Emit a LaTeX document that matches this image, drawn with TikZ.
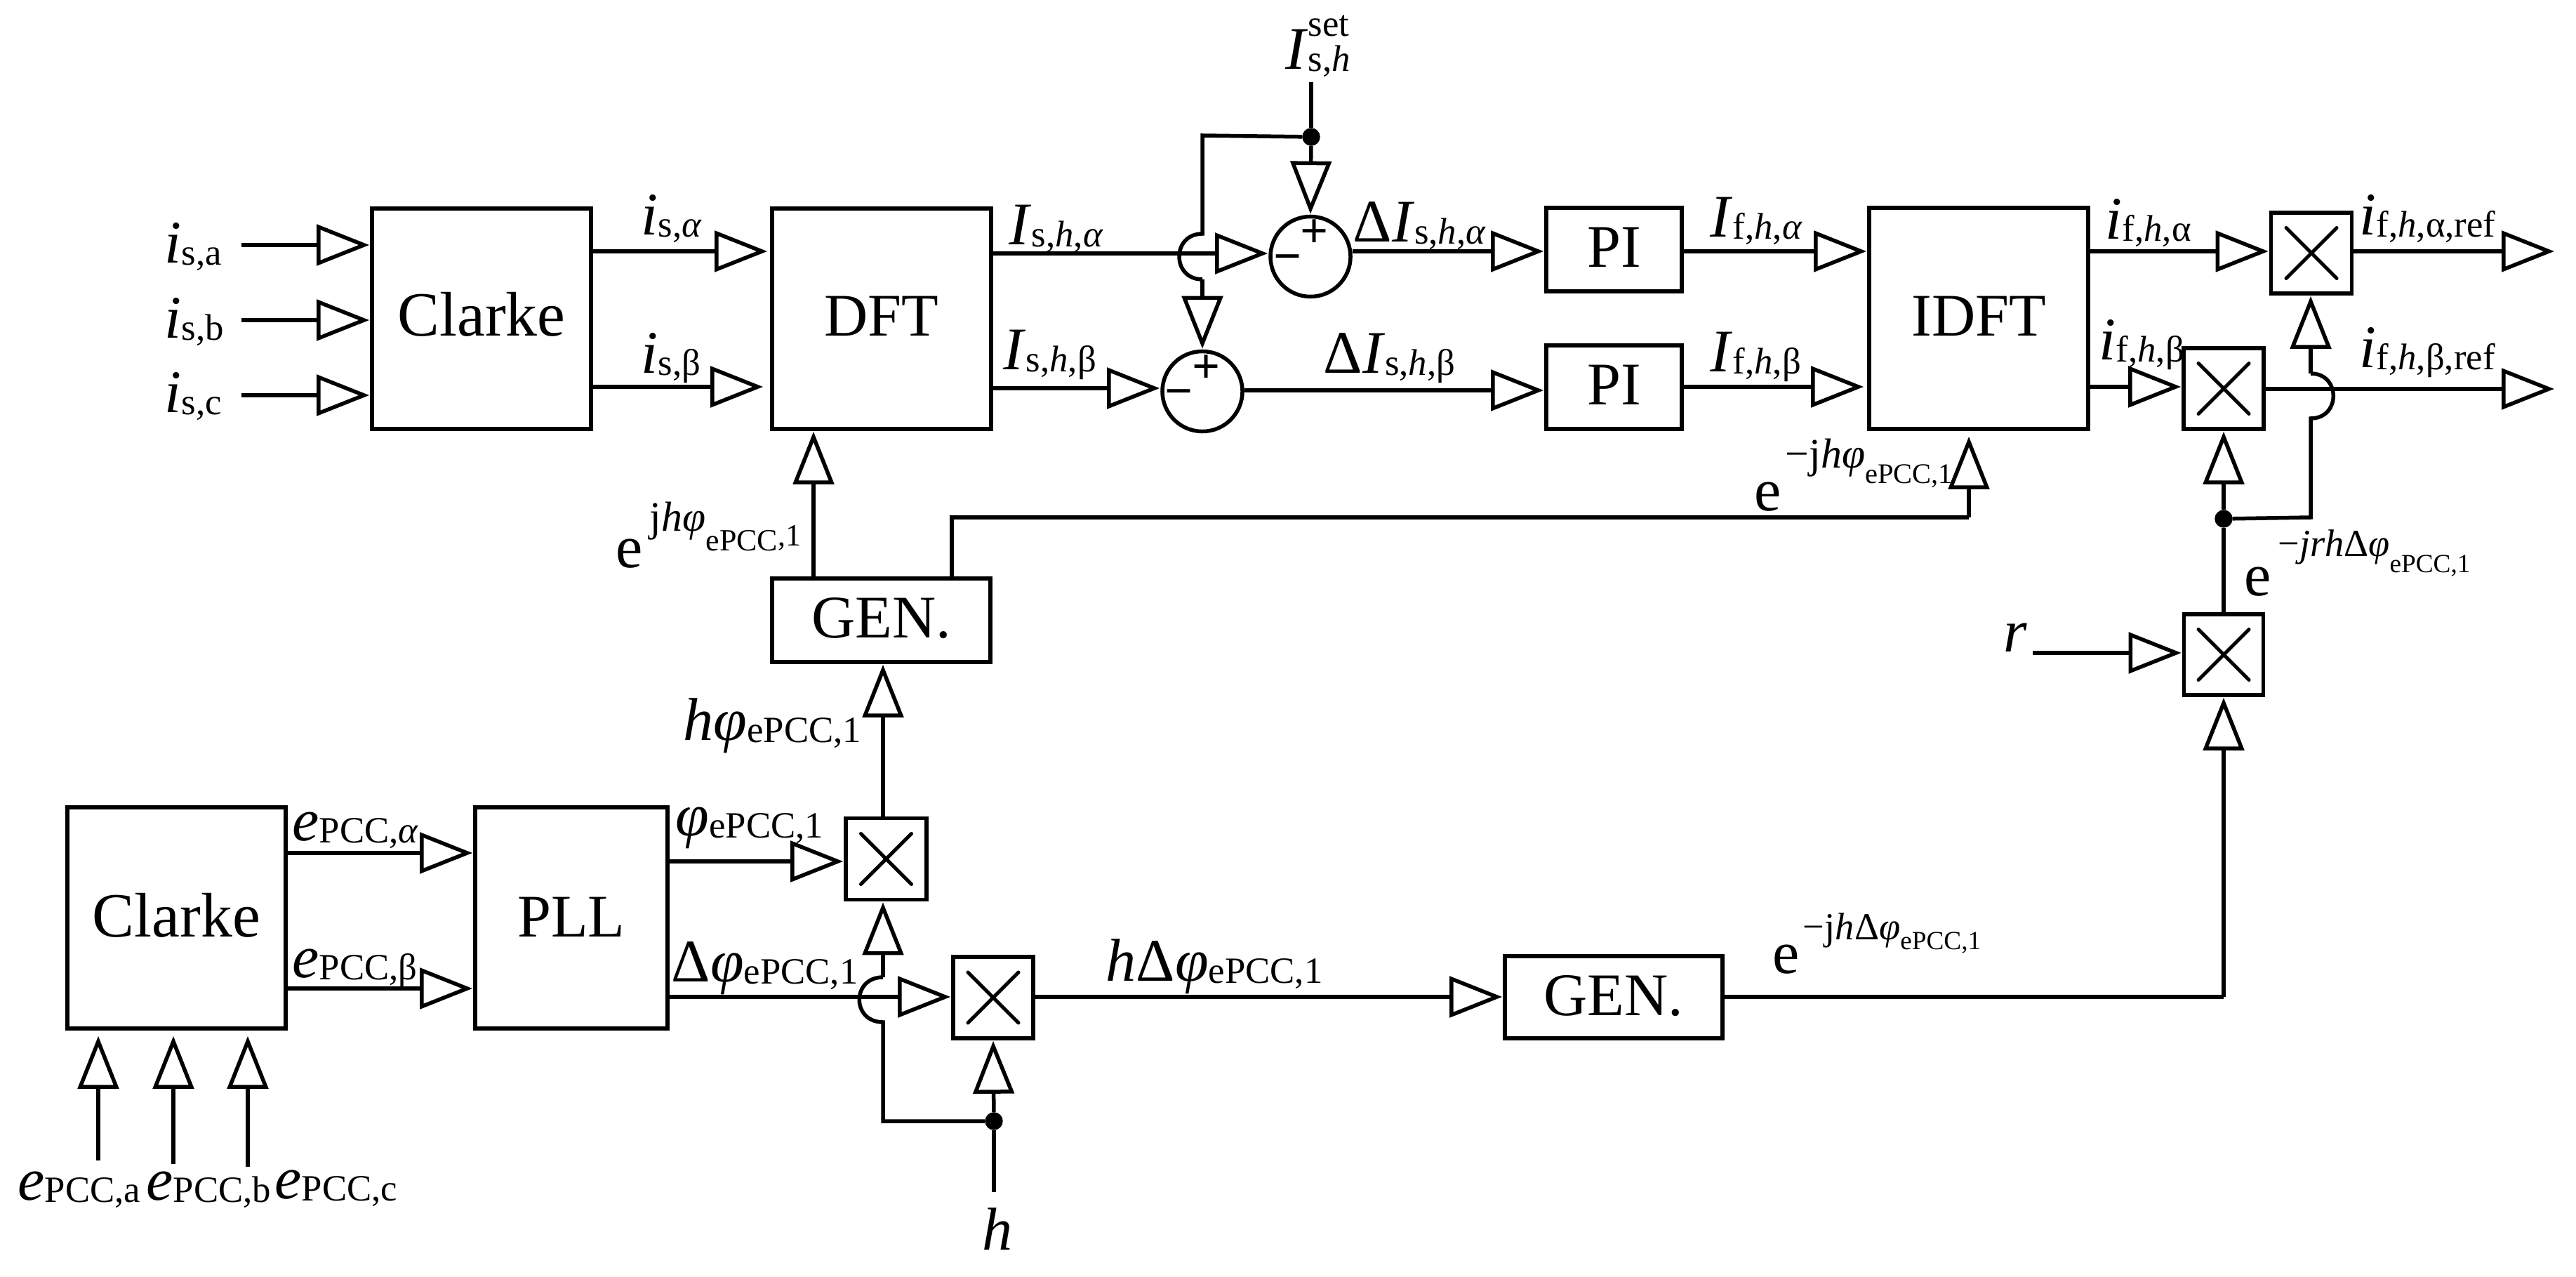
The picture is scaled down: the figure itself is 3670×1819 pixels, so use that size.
\documentclass[tikz,border=0pt]{standalone}
\usepackage{fontspec}
\setmainfont{Liberation Serif}
\usetikzlibrary{arrows.meta}
\newcommand{\up}[3]{\raisebox{#1}{\fontsize{#2}{#2}\selectfont #3}}
\newcommand{\sbs}[1]{\up{-.03cm}{15}{#1}}
\newcommand{\im}[1]{\textit{#1}}
\tikzset{
  wire/.style={line width=.055cm},
  arr/.style={line width=.055cm,-{Triangle[open,length=.75cm,width=.58cm,fill=white]},shorten >=.01cm},
  blk/.style={draw,line width=.055cm,inner sep=0pt,text depth=0pt,fill=white,font=\fontsize{24.5}{26}\selectfont},
  mult/.style={draw,line width=.055cm,inner sep=0pt,fill=white,
    path picture={\draw[line width=.05cm,line cap=round]
      ([xshift=-.36cm,yshift=-.36cm]path picture bounding box.center) -- ([xshift=.36cm,yshift=.36cm]path picture bounding box.center)
      ([xshift=-.36cm,yshift=.36cm]path picture bounding box.center) -- ([xshift=.36cm,yshift=-.36cm]path picture bounding box.center);}},
  sumc/.style={draw,circle,line width=.055cm,inner sep=0pt,minimum size=1.14cm,fill=white},
  dotn/.style={draw,circle,fill=black,inner sep=0pt,minimum size=.24cm},
  lab/.style={anchor=base west,inner sep=0pt,font=\fontsize{24.5}{26}\selectfont},
  sgn/.style={inner sep=0pt,font=\fontsize{20}{20}\selectfont\bfseries}
}
\begin{document}
\begin{tikzpicture}[x=.01cm,y=-.01cm]
\useasboundingbox (0,0) rectangle (3670,1819);
\fill[white] (0,0) rectangle (3670,1819);
% levels and free ends
\foreach \n/\x/\y in {ya/344/349,yb/344/456,yc/344/563,yd/0/358,ye/0/551,yf/0/361,yg/0/553,yh/0/556,
   yi/0/1215,yj/0/1408,yk/0/1227,yl/0/1420,ym/0/554,
   oa/3640/358,ob/3640/554,ea/140/1653,eb/247/1658,ec/353/1662,
   iset/1868/117,ja/1713/193,jb/1713/333,jc/1713/398,
   xa/1159/0,xb/1356/0,ka/2805/737,xc/1258/0,
   ha/1416/1698,jd/1258/1597,je/1258/1456,jf/1258/1392,
   rs/2896/930,cr/3168/1420,jg/3292/737,jh/3292/596,ji/3292/532}
  {\coordinate (\n) at (\x,\y);}
% blocks
\node[blk,minimum width=3.12cm,minimum height=3.14cm,text height=.48cm,font=\fontsize{25.5}{26}\selectfont] (clarkeT) at (686,454) {Clarke};
\node[blk,minimum width=3.12cm,minimum height=3.14cm,text height=.48cm] (dft) at (1256,454) {DFT};
\node[blk,minimum width=3.12cm,minimum height=3.15cm,text height=.50cm] (idft) at (2819,453.5) {IDFT};
\node[blk,minimum width=1.93cm,minimum height=1.19cm,text height=.49cm] (pia) at (2299.5,355.5) {PI};
\node[blk,minimum width=1.93cm,minimum height=1.19cm,text height=.49cm] (pib) at (2299.5,551.5) {PI};
\node[blk,minimum width=3.11cm,minimum height=3.15cm,text height=.53cm,font=\fontsize{25.5}{26}\selectfont] (clarkeB) at (251.5,1307.5) {Clarke};
\node[blk,minimum width=2.74cm,minimum height=3.15cm,text height=.53cm] (pll) at (814,1307.5) {PLL};
\node[blk,minimum width=3.11cm,minimum height=1.19cm,text height=.49cm] (gena) at (1255.5,883.5) {GEN.};
\node[blk,minimum width=3.10cm,minimum height=1.17cm,text height=.52cm] (genb) at (2299,1420.5) {GEN.};
\node[mult,minimum width=1.15cm,minimum height=1.16cm] (ma) at (1262.5,1223.5) {};
\node[mult,minimum width=1.14cm,minimum height=1.16cm] (mb) at (1415,1421) {};
\node[mult,minimum width=1.13cm,minimum height=1.15cm] (mc) at (3168,932.5) {};
\node[mult,minimum width=1.14cm,minimum height=1.15cm] (md) at (3168,553.5) {};
\node[mult,minimum width=1.15cm,minimum height=1.15cm] (me) at (3293,360.5) {};
\node[sumc] (sa) at (1867,365.5) {};
\node[sumc] (sb) at (1713,557.5) {};
\node[sgn] (pa) at (1873,333) {+};
\node[sgn] (na) at (1835,376) {−};
\node[sgn] (pb) at (1719,526) {+};
\node[sgn] (nb) at (1680,568) {−};
\node[dotn] (da) at (1868,195) {};
\node[dotn] (db) at (3168,739) {};
\node[dotn] (dc) at (1416,1597) {};
% connectors
\draw[arr] (ya) -- (clarkeT.west |- ya);
\draw[arr] (yb) -- (clarkeT.west |- yb);
\draw[arr] (yc) -- (clarkeT.west |- yc);
\draw[arr,shorten >=.04cm] (clarkeT.east |- yd) -- (dft.west |- yd);
\draw[arr,shorten >=.10cm] (clarkeT.east |- ye) -- (dft.west |- ye);
\draw[arr] (dft.east |- yf) -- (sa.west |- yf);
\draw[arr] (dft.east |- yg) -- (sb.west |- yg);
\draw[arr] (sa.east |- yd) -- (pia.west |- yd);
\draw[arr] (sb.east |- yh) -- (pib.west |- yh);
\draw[arr] (pia.east |- yd) -- (idft.west |- yd);
\draw[arr,shorten >=.05cm] (pib.east |- ye) -- (idft.west |- ye);
\draw[arr] (idft.east |- yd) -- (me.west |- yd);
\draw[arr] (idft.east |- ye) -- (md.west |- ye);
\draw[arr] (me.east |- yd) -- (oa);
\draw[arr] (md.east |- ob) -- (ob);
\draw[wire] (iset) -- (da);
\draw[arr] (da) -- (sa.north);
\draw[wire] (da) -- (ja) -- (jb) .. controls (1669,333) and (1669,398) .. (jc);
\draw[arr] (jc) -- (jc |- sb.north);
\draw[arr] (xa |- gena.north) -- (xa |- dft.south);
\draw[wire] (xb |- gena.north) |- (ka);
\draw[arr,shorten >=.08cm] (ka) -- (ka |- idft.south);
\draw[arr] (xc |- ma.north) -- (xc |- gena.south);
\draw[arr] (pll.east |- yk) -- (ma.west |- yk);
\draw[arr] (pll.east |- yl) -- (mb.west |- yl);
\draw[arr] (mb.east |- yl) -- (genb.west |- yl);
\draw[wire] (genb.east |- cr) -- (cr);
\draw[arr] (cr) -- (mc.south);
\draw[wire] (mc.north) -- (db);
\draw[arr] (db) -- (md.south);
\draw[wire] (db) -- (jg) -- (jh) .. controls (3335,596) and (3335,532) .. (ji);
\draw[arr] (ji) -- (ji |- me.south);
\draw[wire] (ha) -- (dc);
\draw[arr] (dc) -- (mb.south);
\draw[wire] (dc) -- (jd) -- (je) .. controls (1213,1456) and (1213,1392) .. (jf);
\draw[arr] (jf) -- (jf |- ma.south);
\draw[arr] (rs) -- (mc.west |- rs);
\draw[arr] (yi -| clarkeB.east) -- (yi -| pll.west);
\draw[arr] (yj -| clarkeB.east) -- (yj -| pll.west);
\draw[arr,shorten >=.08cm] (ea) -- (ea |- clarkeB.south);
\draw[arr,shorten >=.08cm] (eb) -- (eb |- clarkeB.south);
\draw[arr,shorten >=.08cm] (ec) -- (ec |- clarkeB.south);
% labels
\node[lab] (l1) at (234,375) {\im{i}\sbs{s,a}};
\node[lab] (l2) at (234,482) {\im{i}\sbs{s,b}};
\node[lab] (l3) at (234,588) {\im{i}\sbs{s,c}};
\node[lab] (l4) at (913,335) {\im{i}\sbs{s,\im{α}}};
\node[lab] (l5) at (913,532) {\im{i}\sbs{s,β}};
\node[lab] (l6) at (1437,349) {\im{I}\sbs{s,\im{h},\im{α}}};
\node[lab] (l7) at (1429,527) {\im{I}\sbs{s,\im{h},β}};
\node[lab] (l8) at (1831,99) {\im{I}\rlap{\up{.47cm}{15}{set}}\sbs{s,\im{h}}};
\node[lab] (l9) at (1927,345) {Δ\im{I}\sbs{s,\im{h},\im{α}}};
\node[lab] (l10) at (1885,532) {Δ\im{I}\sbs{s,\im{h},β}};
\node[lab] (l11) at (2436,338) {\im{I}\sbs{f,\im{h},\im{α}}};
\node[lab] (l12) at (2436,530) {\im{I}\sbs{f,\im{h},β}};
\node[lab] (l13) at (2999,341) {\im{i}\sbs{f,\im{h},α}};
\node[lab] (l14) at (2990,513) {\im{i}\sbs{f,\im{h},β}};
\node[lab] (l15) at (3361,335) {\im{i}\sbs{f,\im{h},α,ref}};
\node[lab] (l16) at (3361,524) {\im{i}\sbs{f,\im{h},β,ref}};
\node[lab] (l17) at (2499,728) {e\hspace{.06cm}\up{.61cm}{17}{−j\im{hφ}\up{-.22cm}{11.5}{ePCC,1}}};
\node[lab] (l18) at (877,808) {e\hspace{.1cm}\up{.51cm}{17}{j\im{hφ}\up{-.28cm}{12.5}{ePCC}\up{-.21cm}{12.5}{,1}}};
\node[lab] (l19) at (973,1054) {\im{hφ}\sbs{ePCC,1}};
\node[lab] (l20) at (416,1197) {\im{e}\sbs{PCC,\im{α}}};
\node[lab] (l21) at (416,1392) {\im{e}\sbs{PCC,β}};
\node[lab] (l22) at (962,1190) {\im{φ}\sbs{ePCC,1}};
\node[lab] (l23) at (956,1398) {Δ\im{φ}\sbs{ePCC,1}};
\node[lab] (l24) at (1575,1397) {\im{h}Δ\im{φ}\sbs{ePCC,1}};
\node[lab] (l25) at (2525,1386) {e\hspace{.05cm}\up{.47cm}{15.5}{−j\im{h}Δ\im{φ}\up{-.14cm}{10.6}{ePCC,1}}};
\node[lab] (l26) at (3197,848) {e\hspace{.1cm}\up{.55cm}{15.5}{−\im{jrh}Δ\im{φ}\up{-.23cm}{10.6}{ePCC,1}}};
\node[lab] (l27) at (2854,928) {\im{r}};
\node[lab] (l28) at (1399,1780) {\im{h}};
\node[lab] (l29) at (25,1709) {\im{e}\sbs{PCC,a}};
\node[lab] (l30) at (208,1709) {\im{e}\sbs{PCC,b}};
\node[lab] (l31) at (391,1707) {\im{e}\sbs{PCC,c}};
\end{tikzpicture}
\end{document}
